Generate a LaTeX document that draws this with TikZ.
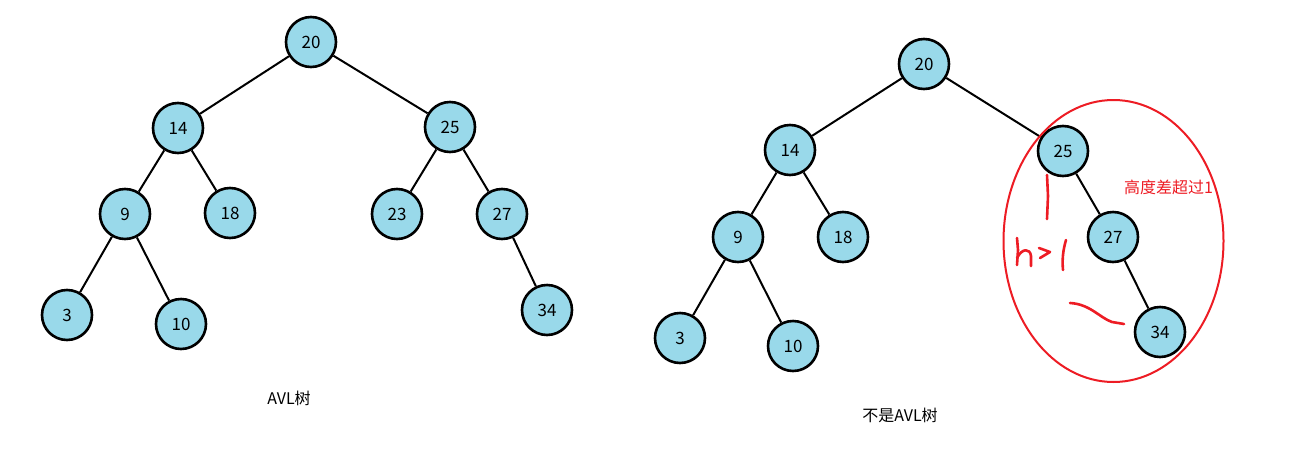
\documentclass[tikz,border=0pt]{standalone}
\usepackage{fontspec}
\setmainfont{Noto Sans CJK SC}
\begin{document}
\begin{tikzpicture}[x=1pt,y=-1pt,
  tn/.style={circle,draw=black,line width=2.6pt,fill=treeblue,minimum size=50pt,inner sep=0pt,font=\fontsize{17}{20}\selectfont},
  edge/.style={draw=black,line width=2pt},
  scribble/.style={draw=paintred,line width=2.6pt,line cap=round,line join=round},
  lbl/.style={font=\fontsize{16}{19}\selectfont}]
\definecolor{treeblue}{RGB}{153,217,234}
\definecolor{paintred}{RGB}{237,28,36}
\useasboundingbox (0,0) rectangle (1291,472);
% left tree
\node[tn] (a20) at (311,42) {20};
\node[tn] (a14) at (178,128) {14};
\node[tn] (a25) at (450,127) {25};
\node[tn] (a9) at (125,214) {9};
\node[tn] (a18) at (230,213) {18};
\node[tn] (a23) at (397,214) {23};
\node[tn] (a27) at (502,214) {27};
\node[tn] (a3) at (67,315) {3};
\node[tn] (a10) at (181,324) {10};
\node[tn] (a34) at (547,310) {34};
\draw[edge] (a20) -- (a14);
\draw[edge] (a20) -- (a25);
\draw[edge] (a14) -- (a9);
\draw[edge] (a14) -- (a18);
\draw[edge] (a25) -- (a23);
\draw[edge] (a25) -- (a27);
\draw[edge] (a9) -- (a3);
\draw[edge] (a9) -- (a10);
\draw[edge] (a27) -- (a34);
\node[lbl] (la) at (289,398) {AVL树};
% right tree
\node[tn] (b20) at (924,64) {20};
\node[tn] (b14) at (790,150) {14};
\node[tn] (b25) at (1063,151) {25};
\node[tn] (b9) at (738,237) {9};
\node[tn] (b18) at (843,237) {18};
\node[tn] (b27) at (1113,237) {27};
\node[tn] (b3) at (680,338) {3};
\node[tn] (b10) at (793,346) {10};
\node[tn] (b34) at (1160,332) {34};
\draw[edge] (b20) -- (b14);
\draw[edge] (b20) -- (b25);
\draw[edge] (b14) -- (b9);
\draw[edge] (b14) -- (b18);
\draw[edge] (b25) -- (b27);
\draw[edge] (b9) -- (b3);
\draw[edge] (b9) -- (b10);
\draw[edge] (b27) -- (b34);
\node[lbl] (lb) at (900,415) {不是AVL树};
% red annotations
\draw[draw=paintred,line width=2pt] (1113.5,241) ellipse [x radius=110, y radius=141];
\node[text=paintred,font=\fontsize{16}{19}\selectfont,anchor=west,inner sep=0pt] (note) at (1124,187) {高度差超过1};
\draw[scribble] (1047,175) -- (1048,196) -- (1047,219);
\draw[scribble] (1017,238) -- (1018,250) -- (1017,265);
\draw[scribble] (1017,258) .. controls (1022,248) and (1030,248) .. (1031,256) -- (1031,266);
\draw[scribble] (1039,248) -- (1050,252) -- (1040,258);
\draw[scribble] (1066,240) .. controls (1063,250) and (1062,260) .. (1063,270);
\draw[scribble] (1070,303) .. controls (1090,304) and (1100,318) .. (1112,322) -- (1124,324);
\end{tikzpicture}
\end{document}
